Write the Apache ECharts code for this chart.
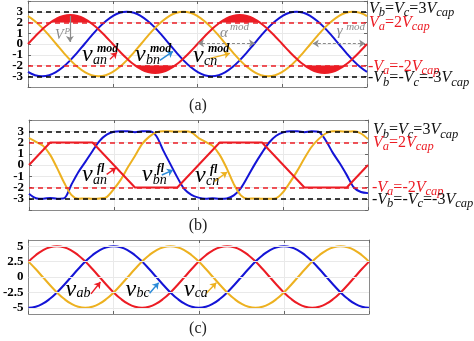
<!DOCTYPE html>
<html><head><meta charset="utf-8">
<script src="https://cdn.jsdelivr.net/npm/echarts@6/dist/echarts.min.js"></script>
<style>html,body{margin:0;padding:0;background:#fff;}#chart{width:474px;height:341px;}</style>
</head><body><div id="chart"></div>
<script>
// ---------------- data (angle in degrees, voltage values) ----------------
const angles = [0,15,30,45,60,75,90,105,120,135,150,165,180,195,210,225,240,255,270,285,300,315,330,345,360,375,390,405,420,435,450,465,480,495,510,525,540,555,570,585,600,615,630,645,660,675,690,705,720];

// (a) modulated phase voltages
const vanMod = [0,0.7,1.35,1.91,2.34,2.61,2.7,2.61,2.34,1.91,1.35,0.7,0,-0.7,-1.35,-1.91,-2.34,-2.61,-2.7,-2.61,-2.34,-1.91,-1.35,-0.7,0,0.7,1.35,1.91,2.34,2.61,2.7,2.61,2.34,1.91,1.35,0.7,0,-0.7,-1.35,-1.91,-2.34,-2.61,-2.7,-2.61,-2.34,-1.91,-1.35,-0.7,0];
const vbnMod = [-2.6,-2.9,-3,-2.9,-2.6,-2.12,-1.5,-0.78,0,0.78,1.5,2.12,2.6,2.9,3,2.9,2.6,2.12,1.5,0.78,0,-0.78,-1.5,-2.12,-2.6,-2.9,-3,-2.9,-2.6,-2.12,-1.5,-0.78,0,0.78,1.5,2.12,2.6,2.9,3,2.9,2.6,2.12,1.5,0.78,0,-0.78,-1.5,-2.12,-2.6];
const vcnMod = [2.6,2.12,1.5,0.78,0,-0.78,-1.5,-2.12,-2.6,-2.9,-3,-2.9,-2.6,-2.12,-1.5,-0.78,0,0.78,1.5,2.12,2.6,2.9,3,2.9,2.6,2.12,1.5,0.78,0,-0.78,-1.5,-2.12,-2.6,-2.9,-3,-2.9,-2.6,-2.12,-1.5,-0.78,0,0.78,1.5,2.12,2.6,2.9,3,2.9,2.6];
// red shaded caps of v_an^mod beyond +/-2
const capTopAngles = [48,60,75,90,105,120,132,408,420,435,450,465,480,492];
const capTopValues = [2,2.34,2.61,2.7,2.61,2.34,2,2,2.34,2.61,2.7,2.61,2.34,2];
const capBotAngles = [228,240,255,270,285,300,312,588,600,615,630,645,660,672];
const capBotValues = [-2,-2.34,-2.61,-2.7,-2.61,-2.34,-2,-2,-2.34,-2.61,-2.7,-2.61,-2.34,-2];

// (b) flattened phase voltages
const vanFl = [0,0.67,1.33,2,2,2,2,2,2,2,1.33,0.67,0,-0.67,-1.33,-2,-2,-2,-2,-2,-2,-2,-1.33,-0.67,0,0.67,1.33,2,2,2,2,2,2,2,1.33,0.67,0,-0.67,-1.33,-2,-2,-2,-2,-2,-2,-2,-1.33,-0.67,0];
const vbnFl = [-2.55,-2.95,-3,-2.93,-3,-2.95,-1.75,-0.62,0.3,1.25,2.15,2.7,2.95,3,3,2.92,3,3,2.6,1.3,0.1,-1.1,-2.15,-2.65,-2.9,-3,-2.95,-3,-2.97,-2.7,-2.05,-1,0.1,1.1,2,2.6,2.9,3,3,2.92,3,2.95,2.2,1.1,0.15,-0.9,-2,-2.4,-2.5];
const vcnFl = [2.4,2.05,1.7,0.9,-0.3,-1.6,-2.65,-3,-2.97,-3,-2.97,-2.85,-2.15,-1.3,-0.2,0.8,1.85,2.5,2.9,3,3,2.97,3,2.9,2.4,2.05,1.7,0.9,-0.3,-1.7,-2.7,-3,-2.97,-3,-3,-2.95,-2.4,-1.5,-0.5,0.6,1.6,2.3,2.8,3,3,2.97,3,2.8,2.3];

// (c) line-to-line voltages
const vab = [2.5,3.54,4.33,4.83,5,4.83,4.33,3.54,2.5,1.29,0,-1.29,-2.5,-3.54,-4.33,-4.83,-5,-4.83,-4.33,-3.54,-2.5,-1.29,0,1.29,2.5,3.54,4.33,4.83,5,4.83,4.33,3.54,2.5,1.29,0,-1.29,-2.5,-3.54,-4.33,-4.83,-5,-4.83,-4.33,-3.54,-2.5,-1.29,0,1.29,2.5];
const vbc = [-5,-4.83,-4.33,-3.54,-2.5,-1.29,0,1.29,2.5,3.54,4.33,4.83,5,4.83,4.33,3.54,2.5,1.29,0,-1.29,-2.5,-3.54,-4.33,-4.83,-5,-4.83,-4.33,-3.54,-2.5,-1.29,0,1.29,2.5,3.54,4.33,4.83,5,4.83,4.33,3.54,2.5,1.29,0,-1.29,-2.5,-3.54,-4.33,-4.83,-5];
const vca = [2.5,1.29,0,-1.29,-2.5,-3.54,-4.33,-4.83,-5,-4.83,-4.33,-3.54,-2.5,-1.29,0,1.29,2.5,3.54,4.33,4.83,5,4.83,4.33,3.54,2.5,1.29,0,-1.29,-2.5,-3.54,-4.33,-4.83,-5,-4.83,-4.33,-3.54,-2.5,-1.29,0,1.29,2.5,3.54,4.33,4.83,5,4.83,4.33,3.54,2.5];

// tick labels and reference levels
const yTicksABodd = [-3,-1,1,3];
const yTicksABeven = [-2,0,2];
const yTicksC = [-5,-2.5,0,2.5,5];
const levelsBlack = [3,-3];
const levelsRed = [2,-2];

// ---------------- styling ----------------
const SERIF = '"Liberation Serif", "Times New Roman", serif';
const RED = '#ec1c24', BLUE = '#1414d6', YEL = '#edb120', ABLUE = '#2a8ad8', GRAY = '#8c8c8c';
const pairs = vals => angles.map((a, i) => [a, vals[i]]);
const pairsXY = (xs, ys) => xs.map((a, i) => [a, ys[i]]);

const grids = [
  {left: 28, top: 1, width: 339, height: 86},
  {left: 29, top: 120, width: 339, height: 90},
  {left: 28, top: 240, width: 341, height: 74}
];

const xAxes = [], yAxes = [], mainY = [];
grids.forEach((g, gi) => {
  const isC = gi === 2;
  const ymin = isC ? -6 : -4, ymax = isC ? 6 : 4;
  ['bottom', 'top'].forEach((pos, k) => {
    xAxes.push({type: 'value', gridIndex: gi, position: pos, min: 0, max: 720, interval: 180,
      axisLabel: {show: false},
      axisLine: {show: true, onZero: false, lineStyle: {color: '#8a8a8a', width: 1}},
      axisTick: {show: true, inside: true, length: 3, lineStyle: {color: '#666'}},
      splitLine: {show: k === 0, lineStyle: {color: '#e9e9e9', width: 1}}});
  });
  ['left', 'right'].forEach((pos, k) => {
    const ax = {type: 'value', gridIndex: gi, position: pos, min: ymin, max: ymax,
      axisLine: {show: true, onZero: false, lineStyle: {color: '#8a8a8a', width: 1}},
      axisTick: {show: true, inside: true, length: 3, lineStyle: {color: '#666'}},
      axisLabel: {show: false},
      splitLine: {show: !isC && k === 0, lineStyle: {color: '#e9e9e9', width: 1}}};
    if (isC) { ax.axisTick.customValues = yTicksC; } else { ax.interval = 1; }
    if (k === 0) mainY.push(yAxes.length);
    yAxes.push(ax);
  });
  // label-only axes (split so neighbouring labels never collide)
  const sets = isC ? [yTicksC] : [yTicksABodd, yTicksABeven];
  sets.forEach(vals => {
    yAxes.push({type: 'value', gridIndex: gi, position: 'left', min: ymin, max: ymax,
      axisLine: {show: false}, axisTick: {show: false}, splitLine: {show: false},
      axisLabel: {show: true, fontFamily: SERIF, fontWeight: 'bold', fontSize: 13, color: '#000', margin: 5,
        hideOverlap: false, customValues: vals, formatter: v => String(v)}});
  });
});
const YI = gi => mainY[gi];

function levelLines() {
  return {silent: true, symbol: 'none', label: {show: false}, animation: false,
    data: levelsBlack.map(v => ({yAxis: v, lineStyle: {color: '#000', type: [5, 4], width: 1.5}}))
      .concat(levelsRed.map(v => ({yAxis: v, lineStyle: {color: RED, type: [5, 4], width: 1.5}})))};
}
function arrowLine(from, to, color, opts) {
  opts = opts || {};
  const ls = Object.assign({color: color, width: 1.4, type: 'solid'}, opts.ls || {});
  return [{coord: from, symbol: opts.startArrow ? 'arrow' : 'none', symbolSize: 6, lineStyle: ls},
          {coord: to, symbol: 'arrow', symbolSize: 6, lineStyle: ls}];
}
function arrows(list) {
  return {silent: true, label: {show: false}, animation: false, symbolSize: 6, data: list};
}
function curve(gi, name, vals, color, smooth, z, ml) {
  const s = {type: 'line', name: name, xAxisIndex: 2 * gi, yAxisIndex: YI(gi), data: pairs(vals),
    symbol: 'none', smooth: smooth, lineStyle: {color: color, width: 2}, itemStyle: {color: color}, z: z || 3};
  if (ml) s.markLine = ml;
  return s;
}

const series = [
  // (a)
  {type: 'line', name: 'capTop', xAxisIndex: 0, yAxisIndex: YI(0), data: pairsXY(capTopAngles, capTopValues),
    symbol: 'none', lineStyle: {width: 0, opacity: 0}, areaStyle: {origin: 2, color: RED, opacity: 1}, z: 2,
    markLine: levelLines()},
  {type: 'line', name: 'capBot', xAxisIndex: 0, yAxisIndex: YI(0), data: pairsXY(capBotAngles, capBotValues),
    symbol: 'none', lineStyle: {width: 0, opacity: 0}, areaStyle: {origin: -2, color: RED, opacity: 1}, z: 2,
    markLine: arrows([
      arrowLine([89, 2.62], [89, 0.19], GRAY, {ls: {width: 1.2}}),
      arrowLine([482, 0.07], [361, 0.07], GRAY, {startArrow: true, ls: {width: 1.2, type: [3, 2], curveness: -0.14}}),
      arrowLine([605, 0.05], [716, 0.05], GRAY, {startArrow: true, ls: {width: 1.2, type: [3, 2], curveness: 0.19}})
    ])},
  curve(0, 'vanMod', vanMod, RED, 0.5, 4, arrows([arrowLine([174, -1.43], [189, -0.77], RED)])),
  curve(0, 'vbnMod', vbnMod, BLUE, 0.5, 3, arrows([arrowLine([280, -1.52], [308, -0.68], ABLUE)])),
  curve(0, 'vcnMod', vcnMod, YEL, 0.5, 3, arrows([arrowLine([387, -1.34], [429, -0.87], YEL)])),
  // (b)
  {type: 'line', name: 'levelsB', xAxisIndex: 2, yAxisIndex: YI(1), data: [], symbol: 'none', markLine: levelLines()},
  curve(1, 'vanFl', vanFl, RED, false, 4, arrows([arrowLine([165, -0.83], [185, -0.24], RED)])),
  curve(1, 'vbnFl', vbnFl, BLUE, 0.3, 3, arrows([arrowLine([282, -0.89], [306, -0.45], ABLUE)])),
  curve(1, 'vcnFl', vcnFl, YEL, 0.3, 3, arrows([arrowLine([394, -1.45], [421, -0.62], YEL)])),
  // (c)
  {type: 'line', name: 'gridC', xAxisIndex: 4, yAxisIndex: YI(2), data: [], symbol: 'none', z: 1,
    markLine: {silent: true, symbol: 'none', label: {show: false}, animation: false,
      data: yTicksC.map(v => ({yAxis: v, lineStyle: {color: '#e9e9e9', type: 'solid', width: 1}}))}},
  curve(2, 'vab', vab, RED, 0.5, 3, arrows([arrowLine([132, -2.74], [152, -0.81], RED)])),
  curve(2, 'vbc', vbc, BLUE, 0.5, 3, arrows([arrowLine([256, -2.63], [275, -0.92], ABLUE)])),
  curve(2, 'vca', vca, YEL, 0.5, 3, arrows([arrowLine([376, -2.63], [397, -0.92], YEL)]))
];

const chart = echarts.init(document.getElementById('chart'), null, {renderer: 'canvas'});
chart.setOption({animation: false, backgroundColor: '#fff', grid: grids, xAxis: xAxes, yAxis: yAxes, series: series});

// ---------------- annotations ----------------
const P = (gi, pt) => chart.convertToPixel({xAxisIndex: 2 * gi, yAxisIndex: YI(gi)}, pt);
const g = [];
function txt(x, y, text, font, color, align) {
  g.push({type: 'text', x: x, y: y, silent: true, z: 100,
    style: {text: text, font: font, fill: color, align: align || 'left', verticalAlign: 'middle',
      textAlign: align || 'left', textVerticalAlign: 'middle'}});
}
function voltLabel(gi, at, sub, sup, subDy) {
  const p = P(gi, at);
  txt(p[0], p[1], 'v', 'italic 24px ' + SERIF, '#000');
  txt(p[0] + 11, p[1] + subDy, sub, 'italic 14px ' + SERIF, '#000');
  if (sup) txt(p[0] + 15, p[1] - 6.5, sup, 'italic bold 12px ' + SERIF, '#000');
}
voltLabel(0, [114.7, -1.02], 'an', 'mod', 5);
voltLabel(0, [227.3, -1.02], 'bn', 'mod', 5);
voltLabel(0, [350.5, -1.1], 'cn', 'mod', 5);
voltLabel(1, [112.6, -0.89], 'an', 'fl', 5);
voltLabel(1, [239.4, -0.89], 'bn', 'fl', 5);
voltLabel(1, [352.6, -0.98], 'cn', 'fl', 5);
voltLabel(2, [78, -2.1], 'ab', null, 3.5);
voltLabel(2, [205, -2.1], 'bc', null, 3.5);
voltLabel(2, [328, -2.1], 'ca', null, 3.5);

// gray annotation symbols in (a)
(function () {
  let p = P(0, [57.3, 0.82]);
  txt(p[0], p[1], 'V', 'italic 14px ' + SERIF, GRAY);
  txt(p[0] + 9.5, p[1] - 3.5, 'P', 'italic 9px ' + SERIF, GRAY);
  p = P(0, [407.8, 1.0]);
  txt(p[0], p[1], 'α', 'italic 15px ' + SERIF, GRAY);
  txt(p[0] + 10, p[1] - 6.3, 'mod', 'italic 11px ' + SERIF, GRAY);
  p = P(0, [655.5, 1.2]);
  txt(p[0], p[1], 'γ', 'italic 15px ' + SERIF, GRAY);
  txt(p[0] + 9.5, p[1] - 3.5, 'mod', 'italic 11px ' + SERIF, GRAY);
})();

// right-hand level labels
function richLabel(x, y, text, color) {
  g.push({type: 'text', x: x, y: y, silent: true, z: 100,
    style: {text: text, align: 'left', verticalAlign: 'middle', textAlign: 'left', textVerticalAlign: 'middle',
      fill: color, fontFamily: SERIF, fontSize: 16,
      rich: {
        V: {fontFamily: SERIF, fontStyle: 'italic', fontSize: 16, fill: color, color: color},
        s: {fontFamily: SERIF, fontStyle: 'italic', fontSize: 12.5, fill: color, color: color, padding: [8, 0, 0, 0]},
        n: {fontFamily: SERIF, fontSize: 16, fill: color, color: color}
      }}});
}
const lblVb = '{V|V}{s|b}{n|=}{V|V}{s|c}{n|=3}{V|V}{s|cap}';
const lblVa = '{V|V}{s|a}{n|=2}{V|V}{s|cap}';
const lblNVa = '{n|-}{V|V}{s|a}{n|=-2}{V|V}{s|cap}';
const lblNVb = '{n|-}{V|V}{s|b}{n|=-}{V|V}{s|c}{n|=-3}{V|V}{s|cap}';
[[0, 1, -3.3, 0, 1, 2], [1, 4, -1, 0, 0, 1]].forEach(cfg => {
  const gi = cfg[0], dx = cfg[1];
  const p3 = P(gi, [720, 3]), p2 = P(gi, [720, 2]), m2 = P(gi, [720, -2]), m3 = P(gi, [720, -3]);
  richLabel(p3[0] + dx + 1, p3[1] + cfg[2], lblVb, '#111');
  richLabel(p2[0] + dx + 1, p2[1] + cfg[3], lblVa, RED);
  richLabel(m2[0] + dx, m2[1] + cfg[4], lblNVa, RED);
  richLabel(m3[0] + dx, m3[1] + cfg[5], lblNVb, '#111');
});

// panel captions
txt(198, 106, '(a)', '16px ' + SERIF, '#222', 'center');
txt(198, 226, '(b)', '16px ' + SERIF, '#222', 'center');
txt(198, 329, '(c)', '16px ' + SERIF, '#222', 'center');

chart.setOption({graphic: g});
</script>
</body></html>
